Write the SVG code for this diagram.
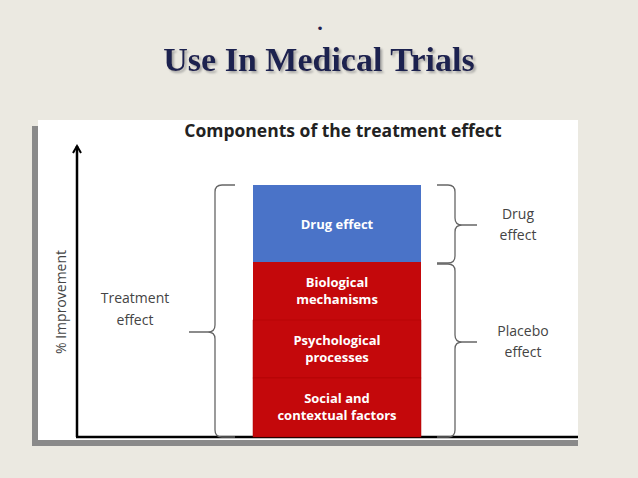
<svg xmlns="http://www.w3.org/2000/svg" width="638" height="478" viewBox="0 0 638 478">
<style>
.t{font-family:"Liberation Serif",serif;font-weight:bold;fill:#1f2050}
.s{font-family:"Open Sans","DejaVu Sans",sans-serif;fill:#444;font-size:14px;text-anchor:middle}
.w{font-family:"Open Sans","DejaVu Sans",sans-serif;fill:#fff;font-size:13px;font-weight:bold;text-anchor:middle}
.br{fill:none;stroke:#666;stroke-width:1.3}
</style>
<defs>
<marker id="ah" markerWidth="10" markerHeight="10" refX="8" refY="5" orient="auto" markerUnits="userSpaceOnUse"><path d="M1,1 L8,5 L1,9" fill="none" stroke="#000" stroke-width="2"/></marker>
<filter id="sh" x="-5%" y="-20%" width="110%" height="140%"><feDropShadow dx="2" dy="2" stdDeviation="1" flood-color="#888" flood-opacity="0.7"/></filter>
</defs>
<rect width="638" height="478" fill="#ebe9e1"/>
<text x="320" y="30" class="t" font-size="22" text-anchor="middle">.</text>
<text x="319" y="71" class="t" font-size="34" text-anchor="middle" filter="url(#sh)">Use In Medical Trials</text>
<rect x="32" y="126" width="546" height="320" fill="#8a8a8a"/>
<rect x="38" y="120" width="540" height="320" fill="#fff"/>
<text x="343" y="137" font-family="Open Sans,DejaVu Sans,sans-serif" font-weight="bold" font-size="17.5" fill="#222" text-anchor="middle">Components of the treatment effect</text>
<g id="axes">
<line x1="77" y1="437" x2="77" y2="146" stroke="#000" stroke-width="2.5" marker-end="url(#ah)"/>
<line x1="76" y1="437" x2="578" y2="437" stroke="#000" stroke-width="2.5"/>
<text transform="translate(66,302) rotate(-90)" class="s" font-size="19">% Improvement</text>
</g>
<g id="drug"><rect x="253" y="185" width="168" height="77" fill="#4a73c8"/><text x="337" y="229" class="w">Drug effect</text></g>
<g id="bio"><rect x="253" y="262" width="168" height="58" fill="#c4080b"/><text x="337" y="287" class="w">Biological</text><text x="337" y="304" class="w">mechanisms</text></g>
<g id="psy"><rect x="253" y="320" width="168" height="58" fill="#c4080b" stroke="#a00" stroke-width="0.5"/><text x="337" y="345" class="w">Psychological</text><text x="337" y="362" class="w">processes</text></g>
<g id="soc"><rect x="253" y="378" width="168" height="59" fill="#c4080b" stroke="#a00" stroke-width="0.5"/><text x="337" y="403" class="w">Social and</text><text x="337" y="420" class="w">contextual factors</text></g>
<g id="connectors">
<path class="br" d="M235,185 H222 Q215,185 215,192 V325 Q215,332 208,332 H189 M208,332 Q215,332 215,339 V430 Q215,437 222,437 H235"/>
<path class="br" d="M437,185 H448 Q455,185 455,192 V218 Q455,225 462,225 H477 M462,225 Q455,225 455,232 V256 Q455,263 448,263 H437"/>
<path class="br" d="M437,264 H448 Q455,264 455,271 V335 Q455,342 462,342 H477 M462,342 Q455,342 455,349 V430 Q455,437 448,437 H437"/>
</g>
<g id="labels">
<text x="135" y="303" class="s">Treatment</text><text x="135" y="325" class="s">effect</text>
<text x="518" y="219" class="s">Drug</text><text x="518" y="240" class="s">effect</text>
<text x="523" y="336" class="s">Placebo</text><text x="523" y="357" class="s">effect</text>
</g>
</svg>
